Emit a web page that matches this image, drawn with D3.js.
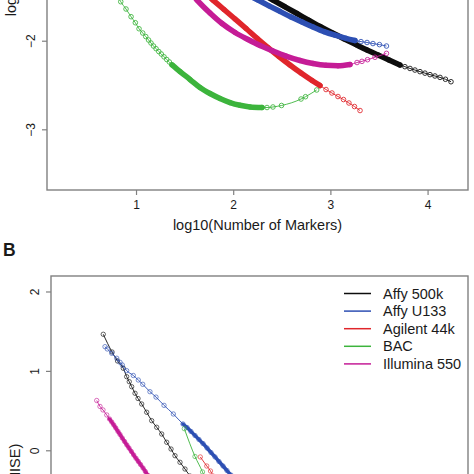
<!DOCTYPE html>
<html><head><meta charset="utf-8">
<script src="https://cdn.jsdelivr.net/npm/d3@7"></script>
<style>html,body{margin:0;padding:0;background:#fff;overflow:hidden}svg{display:block}text{font-family:"Liberation Sans",Arial,sans-serif;fill:#1a1a1a}</style>
</head><body><svg id="c" width="474" height="474"></svg>
<script>
// ---- labels / ticks ----
const seriesNames = ["Affy 500k","Affy U133","Agilent 44k","BAC","Illumina 550"];
const seriesColors = ["#0d0d0d","#2d4fb3","#e0262b","#3cb43c","#c51c96"];
const xTicks = [1,2,3,4];
const yTicksA = [-3,-2];
const yTicksB = [0,1,2];
const xTitle = "log10(Number of Markers)";
const yTitle = "log10(MISE)";
const panelLabelB = "B";

// ---- panel A data: [log10(markers), log10(MISE)] ----
const affy500kA = [[2.173,-1.394],[2.296,-1.473],[2.409,-1.541],[2.533,-1.617],[2.656,-1.693],[2.780,-1.770],[2.903,-1.845],[3.027,-1.916],[3.150,-1.983],[3.263,-2.044],[3.377,-2.105],[3.490,-2.161],[3.603,-2.218],[3.716,-2.274],[3.767,-2.293],[3.819,-2.313],[3.870,-2.331],[3.922,-2.349],[3.973,-2.366],[4.025,-2.383],[4.076,-2.398],[4.128,-2.414],[4.184,-2.435],[4.241,-2.463]];
const affyU133A = [[2.019,-1.405],[2.132,-1.473],[2.255,-1.541],[2.368,-1.606],[2.481,-1.669],[2.595,-1.732],[2.708,-1.789],[2.821,-1.845],[2.934,-1.897],[3.047,-1.938],[3.160,-1.973],[3.253,-1.998],[3.315,-2.010],[3.377,-2.020],[3.438,-2.032],[3.505,-2.044],[3.577,-2.060]];
const agilent44kA = [[1.648,-1.405],[1.792,-1.541],[1.905,-1.648],[2.019,-1.755],[2.132,-1.862],[2.245,-1.972],[2.358,-2.077],[2.471,-2.178],[2.584,-2.274],[2.698,-2.365],[2.811,-2.449],[2.893,-2.506],[2.955,-2.551],[3.016,-2.590],[3.078,-2.630],[3.135,-2.664],[3.191,-2.703],[3.248,-2.743],[3.305,-2.788]];
const bacA = [[0.794,-1.456],[0.843,-1.560],[0.897,-1.642],[0.949,-1.729],[0.993,-1.797],[1.031,-1.865],[1.069,-1.913],[1.100,-1.953],[1.129,-1.992],[1.154,-2.026],[1.180,-2.060],[1.206,-2.090],[1.234,-2.122],[1.260,-2.150],[1.288,-2.182],[1.316,-2.212],[1.343,-2.240],[1.370,-2.272],[1.453,-2.348],[1.556,-2.438],[1.658,-2.528],[1.761,-2.596],[1.864,-2.652],[1.967,-2.698],[2.070,-2.729],[2.173,-2.748],[2.296,-2.754],[2.348,-2.754],[2.409,-2.748],[2.497,-2.731],[2.698,-2.658],[2.744,-2.632],[2.859,-2.556]];
const illumina550A = [[1.525,-1.405],[1.628,-1.541],[1.761,-1.687],[1.885,-1.806],[2.019,-1.907],[2.152,-1.986],[2.276,-2.054],[2.409,-2.116],[2.543,-2.173],[2.687,-2.223],[2.821,-2.257],[2.955,-2.278],[3.078,-2.283],[3.202,-2.269],[3.274,-2.246],[3.325,-2.233],[3.382,-2.214],[3.459,-2.187],[3.577,-2.143]];

// ---- panel B data ----
const affy500kB = [[0.627,1.461],[0.718,1.238],[0.775,1.125],[0.835,1.033],[0.870,0.927],[0.897,0.864],[0.922,0.801],[0.957,0.718],[0.988,0.652],[1.026,0.583],[1.078,0.479],[1.130,0.373],[1.182,0.290],[1.234,0.205],[1.286,0.101],[1.331,0.016],[1.372,-0.068],[1.424,-0.151],[1.476,-0.236],[1.528,-0.324]];
const affyU133B = [[0.645,1.305],[0.669,1.276],[0.715,1.222],[0.767,1.159],[0.801,1.108],[0.825,1.074],[0.870,1.003],[0.939,0.942],[0.991,0.885],[1.037,0.831],[1.112,0.738],[1.175,0.670],[1.258,0.566],[1.355,0.457],[1.455,0.331],[1.497,0.287],[1.538,0.237],[1.580,0.186],[1.621,0.136],[1.663,0.085],[1.705,0.029],[1.746,-0.028],[1.788,-0.084],[1.829,-0.141],[1.871,-0.198],[1.912,-0.255],[1.954,-0.312]];
const agilent44kB = [[1.635,-0.084],[1.702,-0.198],[1.741,-0.261],[1.767,-0.324]];
const bacB = [[1.469,0.272],[1.580,-0.078],[1.658,-0.273],[1.679,-0.336]];
const illumina550B = [[0.559,0.627],[0.593,0.552],[0.624,0.508],[0.663,0.445],[0.692,0.394],[0.715,0.356],[0.736,0.319],[0.757,0.281],[0.780,0.237],[0.801,0.199],[0.824,0.155],[0.848,0.111],[0.872,0.067],[0.894,0.029],[0.919,-0.015],[0.943,-0.059],[0.967,-0.101],[0.991,-0.141],[1.014,-0.179],[1.040,-0.223],[1.064,-0.267],[1.092,-0.317]];

// ---- layout / style ----
const svg = d3.select("#c");
const xDom = [0.084, 4.416];
const layoutA = {left:47, right:468, top:-238, bottom:190, yDom:[-3.685,1.146], id:"A", titleY:-24, xAxis:true};
const layoutB = {left:51, right:468, top:276, bottom:685, yDom:[-2.956,2.195], id:"B", titleY:484, xAxis:false};
// x-ranges where points are so dense that they merge into a solid band
const bandsA = [[-9,3.72],[-9,3.26],[-9,2.90],[1.36,2.30],[-9,3.21]];
const bandsB = [null,[1.45,9],null,null,[0.69,9]];
const styleA = {thin:0.9, band:5.5, r:2.3, cw:1, co:0.85, yTicks:yTicksA};
const styleB = {thin:0.9, band:3.5, r:2.2, cw:0.9, co:0.7, yTicks:yTicksB};

function panel(L, data, bands, st){
  const x = d3.scaleLinear().domain(xDom).range([L.left, L.right]);
  const y = d3.scaleLinear().domain(L.yDom).range([L.bottom, L.top]);
  const cid = "clip" + L.id;
  svg.append("clipPath").attr("id", cid).append("rect")
    .attr("x", L.left).attr("y", L.top).attr("width", L.right - L.left).attr("height", L.bottom - L.top);
  const g = svg.append("g").attr("clip-path", `url(#${cid})`);
  const line = d3.line().x(d => x(d[0])).y(d => y(d[1])).curve(d3.curveMonotoneX);
  data.forEach((pts, i) => {
    const c = seriesColors[i];
    const sg = g.append("g");
    sg.append("path").attr("d", line(pts)).attr("fill","none").attr("stroke", c).attr("stroke-width", st.thin);
    const b = bands[i];
    if (b) {
      const seg = pts.filter(p => p[0] >= b[0] && p[0] <= b[1]);
      sg.append("path").attr("d", line(seg)).attr("fill","none").attr("stroke", c)
        .attr("stroke-width", st.band).attr("stroke-linecap","round").attr("stroke-linejoin","round");
    }
    sg.selectAll("circle").data(pts).enter().append("circle")
      .attr("cx", d => x(d[0])).attr("cy", d => y(d[1])).attr("r", st.r)
      .attr("fill","none").attr("stroke", c).attr("stroke-width", st.cw).attr("stroke-opacity", st.co);
  });
  // frame
  svg.append("rect").attr("x", L.left).attr("y", L.top).attr("width", L.right - L.left).attr("height", L.bottom - L.top)
    .attr("fill","none").attr("stroke","#808080").attr("stroke-width",1.4);
  // x axis (only where it falls inside the picture)
  if (L.xAxis) {
    const ax = svg.append("g").attr("transform", `translate(0,${L.bottom})`)
      .call(d3.axisBottom(x).tickValues(xTicks).tickSize(5).tickPadding(5).tickFormat(d3.format("d")));
    ax.select(".domain").remove();
    ax.selectAll("line").attr("stroke","#808080").attr("stroke-width",1.2);
    ax.selectAll("text").attr("font-size",12).attr("fill","#1a1a1a").style("font-family","'Liberation Sans',Arial,sans-serif");
    svg.append("text").attr("x",(L.left+L.right)/2).attr("y",L.bottom+40).attr("text-anchor","middle")
      .attr("font-size",14.5).text(xTitle);
  }
  // y axis
  const ay = svg.append("g").attr("transform", `translate(${L.left},0)`)
    .call(d3.axisLeft(y).tickValues(st.yTicks).tickSize(5).tickFormat(d3.format("d")));
  ay.select(".domain").remove();
  ay.selectAll("line").attr("stroke","#808080").attr("stroke-width",1.2);
  ay.selectAll("text").attr("x",null).attr("dy",null)
    .attr("transform","translate(-16,0) rotate(-90)").attr("text-anchor","middle")
    .attr("dominant-baseline","central").attr("font-size",12).attr("fill","#1a1a1a")
    .style("font-family","'Liberation Sans',Arial,sans-serif");
  svg.append("text").attr("transform",`translate(${L.left-36},${L.titleY}) rotate(-90)`)
    .attr("text-anchor","middle").attr("dominant-baseline","central").attr("font-size",14.5).text(yTitle);
  return {x, y};
}

panel(layoutA, [affy500kA, affyU133A, agilent44kA, bacA, illumina550A], bandsA, styleA);
panel(layoutB, [affy500kB, affyU133B, agilent44kB, bacB, illumina550B], bandsB, styleB);

// panel letter
svg.append("text").attr("x",3).attr("y",256).attr("font-size",17.5).attr("font-weight","bold").text(panelLabelB);

// legend (panel B)
const leg = svg.append("g");
seriesNames.forEach((n, i) => {
  const cy = 293.5 + i * 17.6;
  leg.append("line").attr("x1",344).attr("x2",371).attr("y1",cy).attr("y2",cy)
    .attr("stroke", seriesColors[i]).attr("stroke-width",1.5);
  leg.append("text").attr("x",383).attr("y",cy).attr("dominant-baseline","central")
    .attr("font-size",14.5).text(n);
});
</script></body></html>
